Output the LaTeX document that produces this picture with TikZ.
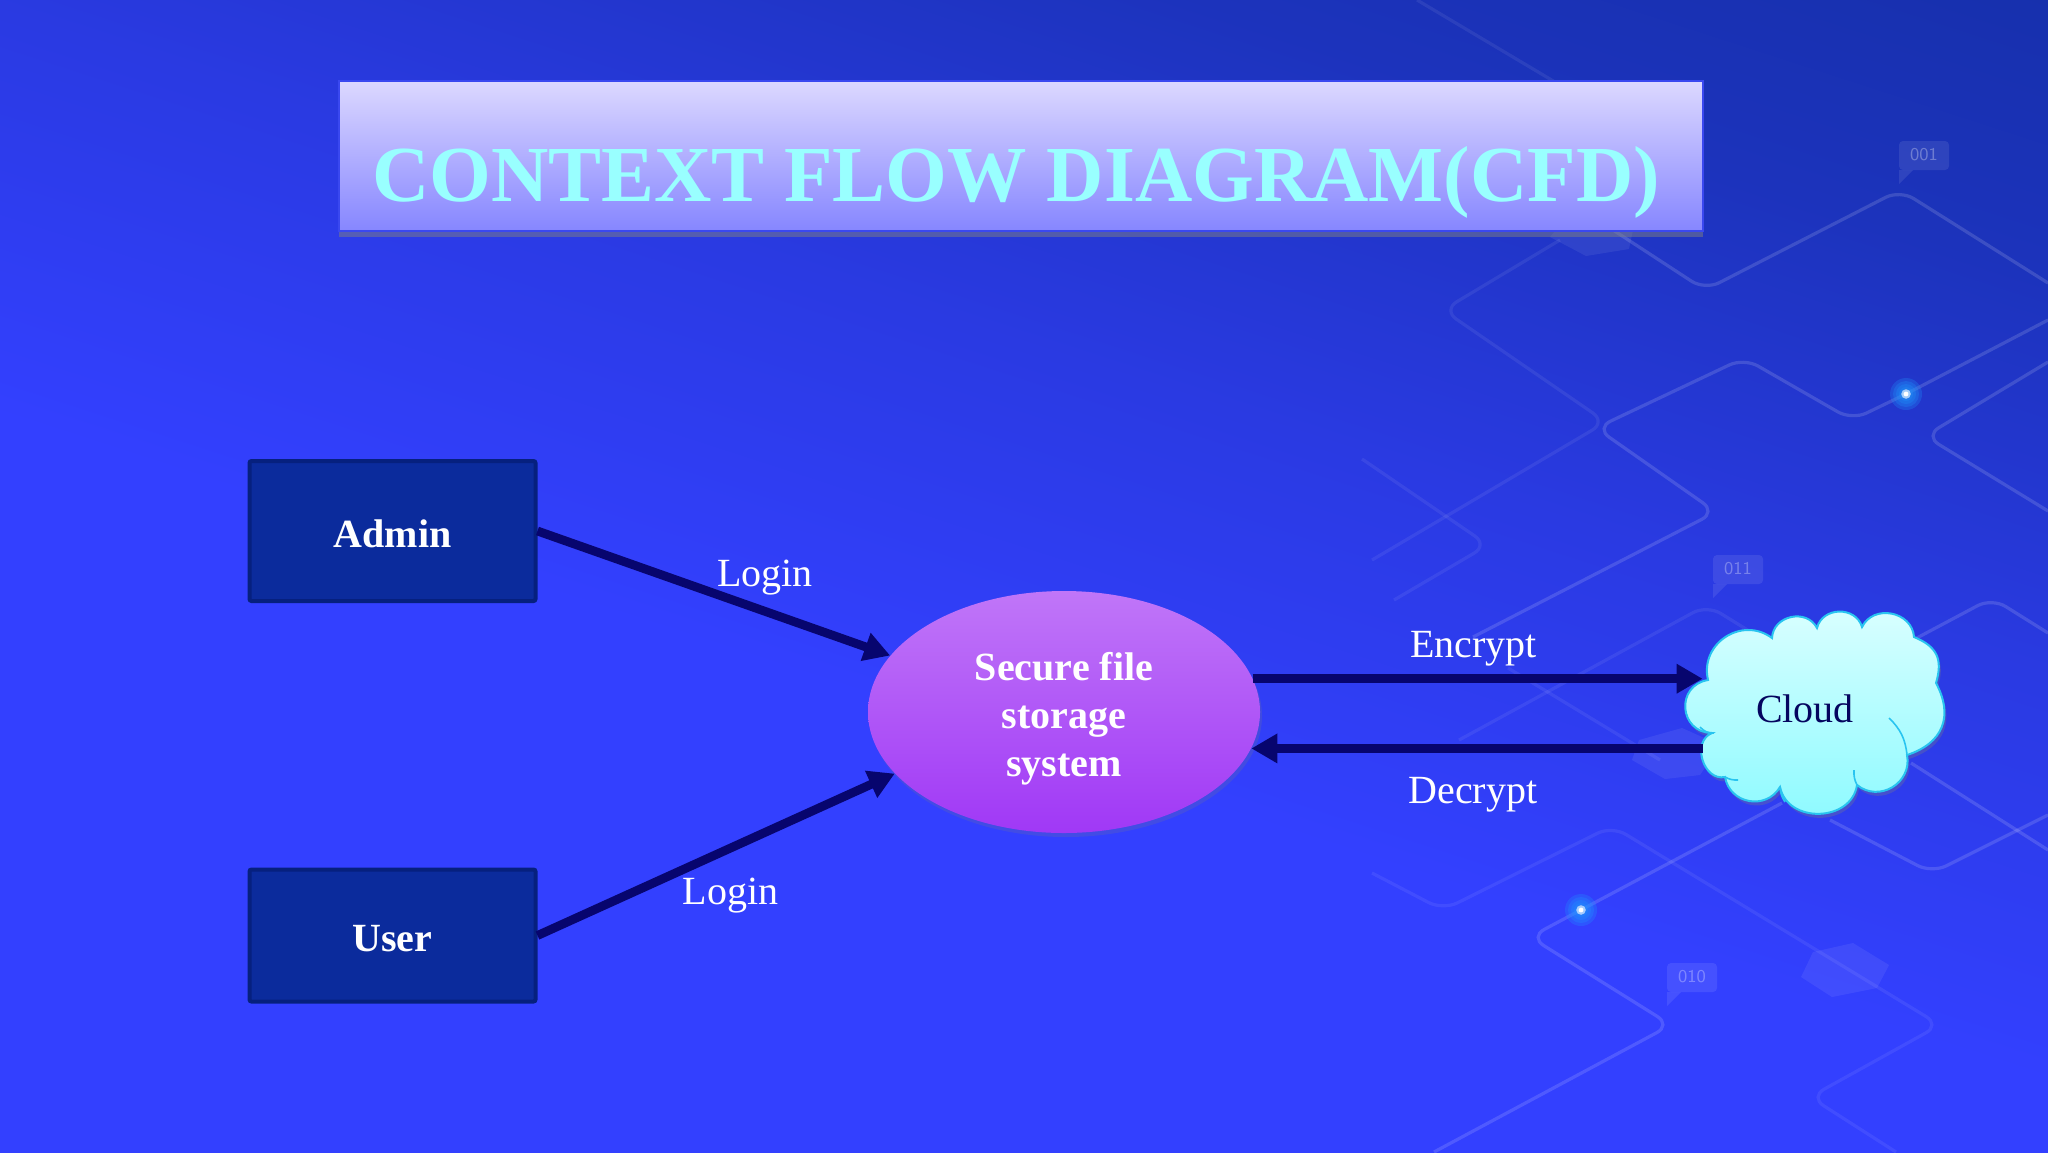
\documentclass[tikz,border=0pt]{standalone}
\usepackage{fontspec}
\setmainfont{Liberation Serif}
\usepackage{tikz}
\usetikzlibrary{shapes.geometric,arrows.meta,positioning,shadows,calc}

\definecolor{flowink}{HTML}{07056E}
\definecolor{boxfill}{HTML}{0B2B9C}
\definecolor{boxedge}{HTML}{06207E}
\definecolor{bga}{HTML}{3340FF}
\definecolor{bgb}{HTML}{2A3AE2}
\definecolor{bgc}{HTML}{1C33BC}
\definecolor{bgd}{HTML}{122DA0}
\definecolor{titletop}{HTML}{DCD8FF}
\definecolor{titlelow}{HTML}{8686FF}
\definecolor{titleedge}{HTML}{3A48F0}
\definecolor{titleink}{HTML}{99FFFF}
\definecolor{systop}{HTML}{C076F8}
\definecolor{syslow}{HTML}{A038F6}
\definecolor{cloudtop}{HTML}{DAFFFF}
\definecolor{cloudlow}{HTML}{8CFAFF}
\definecolor{cloudedge}{HTML}{29C4F0}
\definecolor{cloudink}{HTML}{05055F}
\definecolor{glowblue}{HTML}{1E9BFF}
\pgfdeclareverticalshading{bgfade}{100bp}{color(0bp)=(bga); color(44bp)=(bga);
  color(58bp)=(bgb); color(72bp)=(bgc); color(90bp)=(bgd); color(100bp)=(bgd)}

\begin{document}
\begin{tikzpicture}[
  x=0.5pt, y=-0.5pt,
  every node/.style={font=\fontsize{20pt}{24pt}\selectfont},
  actor/.style={rectangle, draw=boxedge, line width=2pt, rounded corners=1pt, fill=boxfill,
                text=white, minimum width=143pt, text height=16.2pt, text depth=0pt,
                font=\fontsize{20pt}{24pt}\selectfont\bfseries},
  flow/.style={-{Triangle[length=13pt,width=14pt]}, line width=4.4pt, draw=flowink},
  lbl/.style={text=white, inner sep=0pt},
  trace/.style={draw=white, draw opacity=.14, line width=1.6pt, rounded corners=8pt},
  tracefaint/.style={trace, draw opacity=.07},
  hexa/.style={fill=white, fill opacity=.07},
  tagbox/.style={fill=white, fill opacity=.09, rounded corners=2pt}
]
  \useasboundingbox (0,0) rectangle (2048,1152);
  % backdrop
  \shade[shading=bgfade, shading angle=-18] (0,0) rectangle (2048,1152);
  \draw[tracefaint] (1417,0) -- (1560,85);
  \draw[trace] (1590,215) -- (1705,290) -- (1900,190) -- (2048,283);
  \draw[tracefaint] (1560,240) -- (1443,310) -- (1606,422) -- (1372,560);
  \draw[trace] (2048,320) -- (1906,394) -- (1852,420) -- (1744,358) -- (1596,428) -- (1716,512) -- (1473,637);
  \draw[trace] (2048,362) -- (1925,436) -- (2048,511);
  \draw[tracefaint] (1362,459) -- (1488,545) -- (1394,600);
  \draw[tracefaint] (1459,740) -- (1707,605) -- (1780,650);
  \draw[trace] (1913,640) -- (1992,598) -- (2048,633);
  \draw[tracefaint] (1508,668) -- (1660,760);
  \draw[trace] (1830,820) -- (1932,873) -- (2048,815);
  \draw[trace] (1911,763) -- (2048,850);
  \draw[tracefaint] (1372,873) -- (1443,910) -- (1612,826) -- (1940,1025) -- (1810,1097) -- (1896,1152);
  \draw[trace] (1782,803) -- (1530,937) -- (1671,1025) -- (1434,1152);
  \fill[hexa] (1801,977) -- (1813,952) -- (1853,943) -- (1889,965) -- (1877,988) -- (1832,997) -- cycle;
  \fill[hexa] (1632,760) -- (1665,779) -- (1700,775) -- (1720,745) -- (1682,728) -- (1639,740) -- cycle;
  \fill[hexa] (1550,237) -- (1586,256) -- (1629,249) -- (1634,225) -- (1560,225) -- cycle;
  \foreach \tagx/\tagy/\tagtxt in {1899/141/001, 1713/555/011, 1667/963/010} {
    \fill[tagbox] (\tagx,\tagy) rectangle ++(50,29);
    \fill[white, fill opacity=.09] (\tagx,\tagy+29) -- (\tagx,\tagy+43) -- (\tagx+14,\tagy+29) -- cycle;
    \node[text=white, text opacity=.3, font=\sffamily\fontsize{9pt}{9pt}\selectfont, inner sep=0pt] (tag\tagtxt) at (\tagx+25,\tagy+14) {\tagtxt};
  }
  \foreach \glowx/\glowy in {1906/394, 1581/910} {
    \foreach \k in {2,3.5,5,6.5,8}
      \fill[glowblue, fill opacity=.25] (\glowx,\glowy) circle[radius=\k pt];
    \fill[white, fill opacity=.6] (\glowx,\glowy) circle[radius=2.4pt];
    \fill[white] (\glowx,\glowy) circle[radius=1.2pt];
  }

  % title
  \node[draw=titleedge, line width=1pt, top color=titletop, bottom color=titlelow,
        minimum width=682pt, minimum height=75pt,
        drop shadow={shadow xshift=0pt, shadow yshift=-3pt, opacity=.5},
        text=titleink, font=\fontsize{39.7pt}{40pt}\selectfont\bfseries] (title)
        at (1021,156) {\hspace*{-5pt}\raisebox{-22.5pt}[0pt][0pt]{CONTEXT FLOW DIAGRAM(CFD)}};

  \node[actor, minimum height=70pt] (admin) at (392.5,531) {Admin};
  \node[actor, minimum height=66pt] (user)  at (392.5,935.5) {User};

  \node[ellipse, minimum width=196pt, minimum height=121pt, inner sep=0pt, align=center,
        top color=systop, bottom color=syslow,
        drop shadow={shadow xshift=1pt, shadow yshift=-2pt, opacity=.2},
        text=white, font=\fontsize{20pt}{24pt}\selectfont\bfseries] (sys) at (1064,712)
        {\rule{0pt}{21pt}Secure file\\storage\\system};

  % cloud outline, valley to valley
  \draw[draw=cloudedge, line width=1pt, top color=cloudtop, bottom color=cloudlow, looseness=1.25,
        drop shadow={shadow xshift=1pt, shadow yshift=-2pt, opacity=.3}]
    (1772,638) to[bend left=75] (1817,628) to[bend left=75] (1862,627) to[bend left=75] (1914,637)
    to[bend left=42] (1936,683) to[bend left=50] (1907,755) to[bend left=70] (1857,785)
    to[bend left=80] (1780,787) to[bend left=70] (1725,777) to[bend left=85] (1712,733)
    to[bend left=85, looseness=1.6] (1708,680) to[bend left=70] cycle;
  \draw[draw=cloudedge, line width=.8pt]
    (1889,718) to[bend left=20] (1907,755)
    (1700,727) to[bend right=25] (1714,733)
    (1780,787) to[bend right=15] (1785,802)
    (1857,785) to[bend left=15] (1854,770)
    (1725,777) to[bend right=15] (1738,780);
  \node[minimum width=102pt, inner sep=0pt, text=cloudink] (cloud) at (1805,709) {Cloud};

  \draw[flow] (admin.east) -- node[lbl, pos=.645, above=6pt] {Login} (sys.162.5);
  \draw[flow] (user.east)  -- node[lbl, pos=.54, below=13pt] {Login} (sys.200);
  \draw[flow] (sys.10) -- node[lbl, xshift=-2pt, above=4pt] {Encrypt} (sys.10 -| cloud.west);
  \draw[flow] (cloud.west |- sys.-11.5) -- node[lbl, xshift=-2pt, below=12pt] {Decrypt} (sys.-11.5);
\end{tikzpicture}
\end{document}
